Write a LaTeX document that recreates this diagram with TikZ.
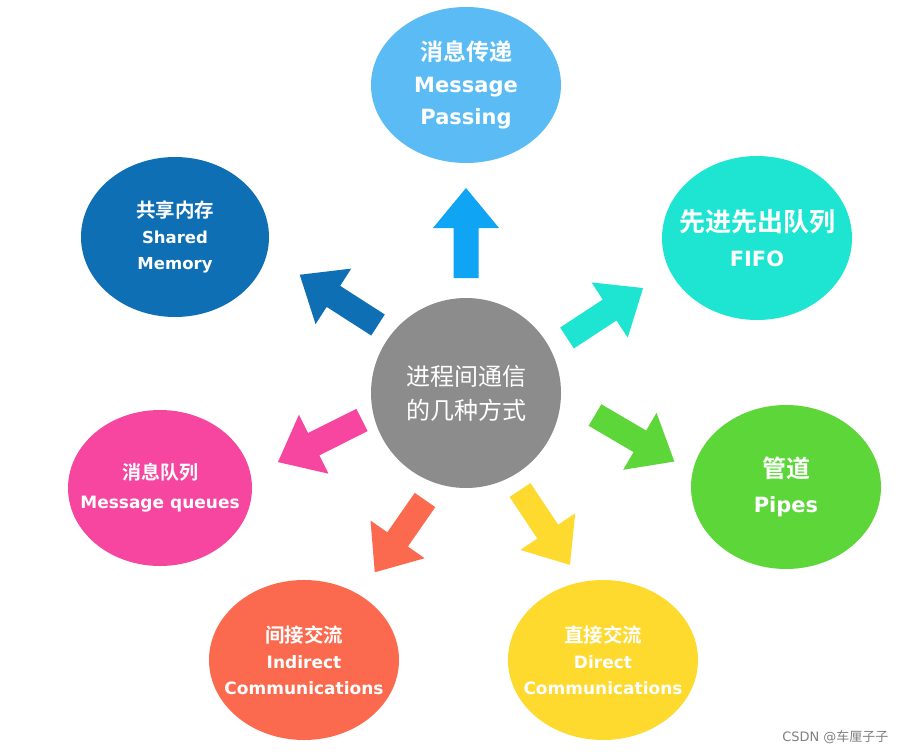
\documentclass[tikz,border=0pt]{standalone}
\usepackage{fontspec}
\setmainfont{DejaVu Sans}
\newfontfamily\cjk{Noto Sans CJK SC}[BoldFont={Noto Sans CJK SC Bold}]
\newcommand\zh[2]{{\fontsize{#1}{#1}\selectfont\cjk #2}}
\begin{document}
\begin{tikzpicture}[x=1pt,y=-1pt,
  bub/.style={draw=none,text=white,align=center,inner sep=0pt,font=\bfseries},
  ]
\path[use as bounding box,fill=white] (0,0) rectangle (901,754);
\definecolor{cgray}{HTML}{8C8C8C}
\definecolor{cmp}{HTML}{5BBCF5}
\definecolor{cmpa}{HTML}{10A4F5}
\definecolor{csm}{HTML}{0F6FB5}
\definecolor{cfifo}{HTML}{1DE5D2}
\definecolor{cmq}{HTML}{F646A0}
\definecolor{cpipe}{HTML}{5DD63A}
\definecolor{cind}{HTML}{FB6A4E}
\definecolor{cdir}{HTML}{FED92E}
\newcommand\blockarrow[5]{%
 \begin{scope}[shift={(#1,#2)},rotate=-#3]
 \path[fill=#5] (0,-12.5)--(#4-40,-12.5)--(#4-40,-33)--(#4,0)--(#4-40,33)--(#4-40,12.5)--(0,12.5)--cycle;
 \end{scope}}
\blockarrow{466}{278}{-90}{90}{cmpa}
\blockarrow{378}{325}{-147.3}{93}{csm}
\blockarrow{567}{338}{-33.3}{91}{cfifo}
\blockarrow{362}{420}{153.4}{94}{cmq}
\blockarrow{595}{415}{30.4}{92}{cpipe}
\blockarrow{425}{500}{124.8}{88}{cind}
\blockarrow{520}{490}{56.3}{90}{cdir}
\fill[cgray] (466,393) circle (95);
\node[text=white,align=center,font=\fontsize{24}{34}\selectfont\cjk] (c) at (466,393) {进程间通信\\的几种方式};
\fill[cmp] (466,85) ellipse (95 and 78);
\node[bub,font=\fontsize{21}{32}\selectfont\bfseries] (mp) at (466,85) {\zh{23}{消息传递}\\Message\\Passing};
\fill[csm] (175,237) ellipse (94 and 80);
\node[bub,font=\fontsize{16.5}{26}\selectfont\bfseries] (sm) at (175,237) {\zh{19.5}{共享内存}\\Shared\\Memory};
\fill[cfifo] (757,238) ellipse (95 and 82);
\node[bub,font=\fontsize{21}{35}\selectfont\bfseries] (ff) at (757,238) {\zh{26}{先进先出队列}\\FIFO};
\fill[cmq] (160,488) ellipse (92 and 78);
\node[bub,font=\fontsize{17}{29}\selectfont\bfseries] (mq) at (160,488) {\zh{19}{消息队列}\\Message queues};
\fill[cpipe] (786,487) ellipse (95 and 82);
\node[bub,font=\fontsize{21}{35}\selectfont\bfseries] (pp) at (786,487) {\zh{24}{管道}\\Pipes};
\fill[cind] (304,660) ellipse (95 and 80);
\node[bub,font=\fontsize{17}{26}\selectfont\bfseries] (ic) at (304,660) {\zh{19.5}{间接交流}\\Indirect\\Communications};
\fill[cdir] (603,660) ellipse (95 and 80);
\node[bub,font=\fontsize{17}{26}\selectfont\bfseries] (dc) at (603,660) {\zh{19.5}{直接交流}\\Direct\\Communications};
\node[text=gray,font=\fontsize{13}{15}\selectfont,anchor=east] (wm) at (892,737) {CSDN @{\cjk 车厘子子}};
\end{tikzpicture}
\end{document}
